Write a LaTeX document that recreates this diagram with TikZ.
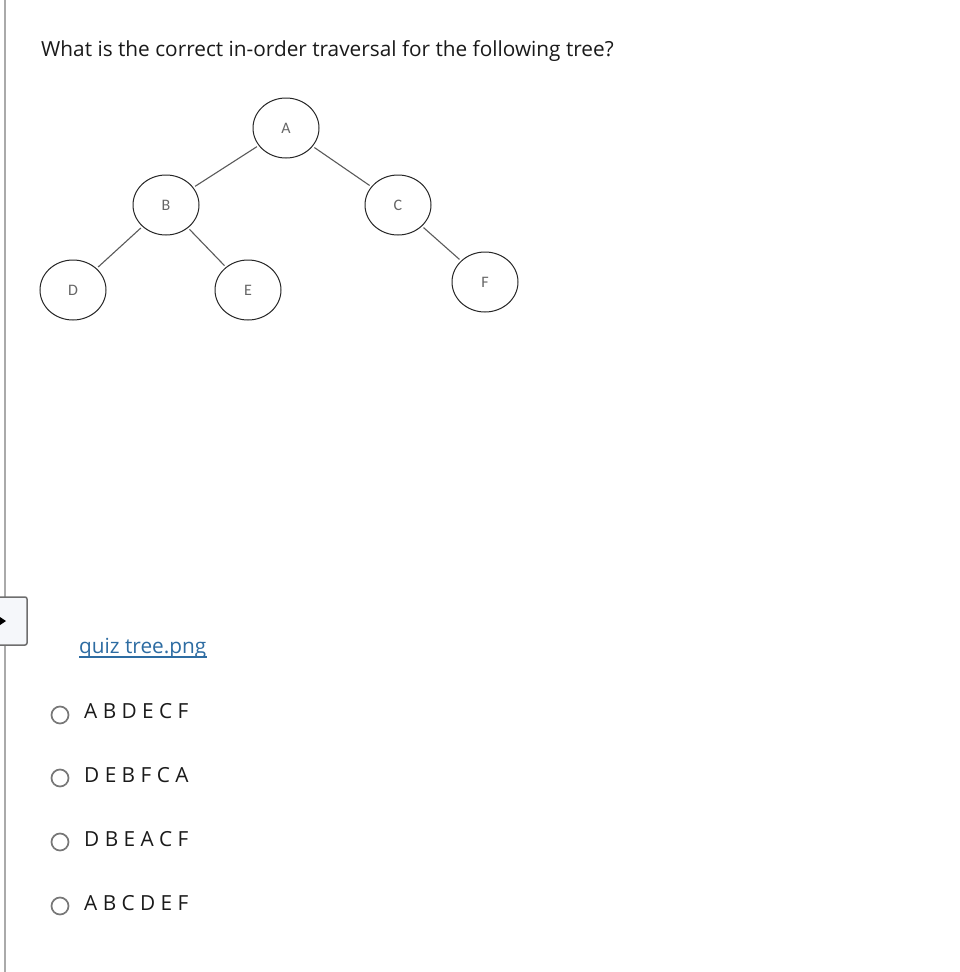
\documentclass[tikz,border=0pt]{standalone}
\usepackage{fontspec}
\setmainfont{Open Sans}
\newfontfamily\labelfont{Carlito}
\usetikzlibrary{shapes.geometric}
\definecolor{edgegray}{HTML}{5A5A5A}
\definecolor{linkblue}{HTML}{2D6CA2}
\definecolor{radiogray}{HTML}{777777}
\definecolor{bordergray}{HTML}{AAAAAA}
\definecolor{boxfill}{HTML}{F5F7FA}
\definecolor{boxborder}{HTML}{6E6E6E}
\definecolor{txt}{HTML}{1A1A1A}
\tikzset{
  treenode/.style={ellipse, draw=black!85, line width=1pt, minimum width=66pt, minimum height=60pt, inner sep=0pt, font=\labelfont\fontsize{16}{18}\selectfont, text=black!60},
  treeedge/.style={draw=edgegray, line width=1.1pt},
  radio/.style={circle, draw=radiogray, line width=1.7pt, minimum size=17pt, inner sep=0pt},
  opt/.style={anchor=base west, inner sep=0pt, font=\fontsize{20.8}{24}\selectfont, text=txt},
}
\begin{document}
\begin{tikzpicture}[x=1pt,y=-1pt]
\useasboundingbox (0,0) rectangle (960,972);
\fill[white] (0,0) rectangle (960,972);
% left border
\draw[bordergray, line width=2pt] (5,0) -- (5,972);
% side box
\draw[boxborder, fill=boxfill, line width=1.5pt, rounded corners=2pt] (-5,597) rectangle (27,645);
\fill[black] (0,617) -- (6,621) -- (0,625) -- cycle;
% question
\node[anchor=base west, inner sep=0pt, font=\fontsize{20.8}{24}\selectfont, text=txt] (q) at (41,56) {What is the correct in-order traversal for the following tree?};
% tree
\node[treenode] (A) at (286,128) {A};
\node[treenode] (B) at (166,205) {B};
\node[treenode] (C) at (398,205) {C};
\node[treenode] (D) at (73,290) {D};
\node[treenode] (E) at (248,290) {E};
\node[treenode] (F) at (485,282) {F};
\draw[treeedge, shorten <=2pt, shorten >=2pt] (A) -- (B);
\draw[treeedge, shorten <=2pt, shorten >=2pt] (A) -- (C);
\draw[treeedge, shorten <=2pt, shorten >=2pt] (B) -- (D);
\draw[treeedge, shorten <=2pt, shorten >=2pt] (B) -- (E);
\draw[treeedge, shorten <=2pt, shorten >=2pt] (C) -- (F);
% link
\node[anchor=base west, inner sep=0pt, font=\fontsize{20.8}{24}\selectfont, text=linkblue] (link) at (79,653) {quiz tree.png};
\draw[linkblue, line width=1.2pt] ([yshift=-4pt]link.base west) -- ([yshift=-4pt]link.base east);
% options
\node[radio] (r1) at (60,715) {};
\node[radio] (r2) at (60,778) {};
\node[radio] (r3) at (60,842) {};
\node[radio] (r4) at (60,906) {};
\node[opt] (o1) at (84,718) {A B D E C F};
\node[opt] (o2) at (84,782) {D E B F C A};
\node[opt] (o3) at (84,846) {D B E A C F};
\node[opt] (o4) at (84,910) {A B C D E F};
\end{tikzpicture}
\end{document}
